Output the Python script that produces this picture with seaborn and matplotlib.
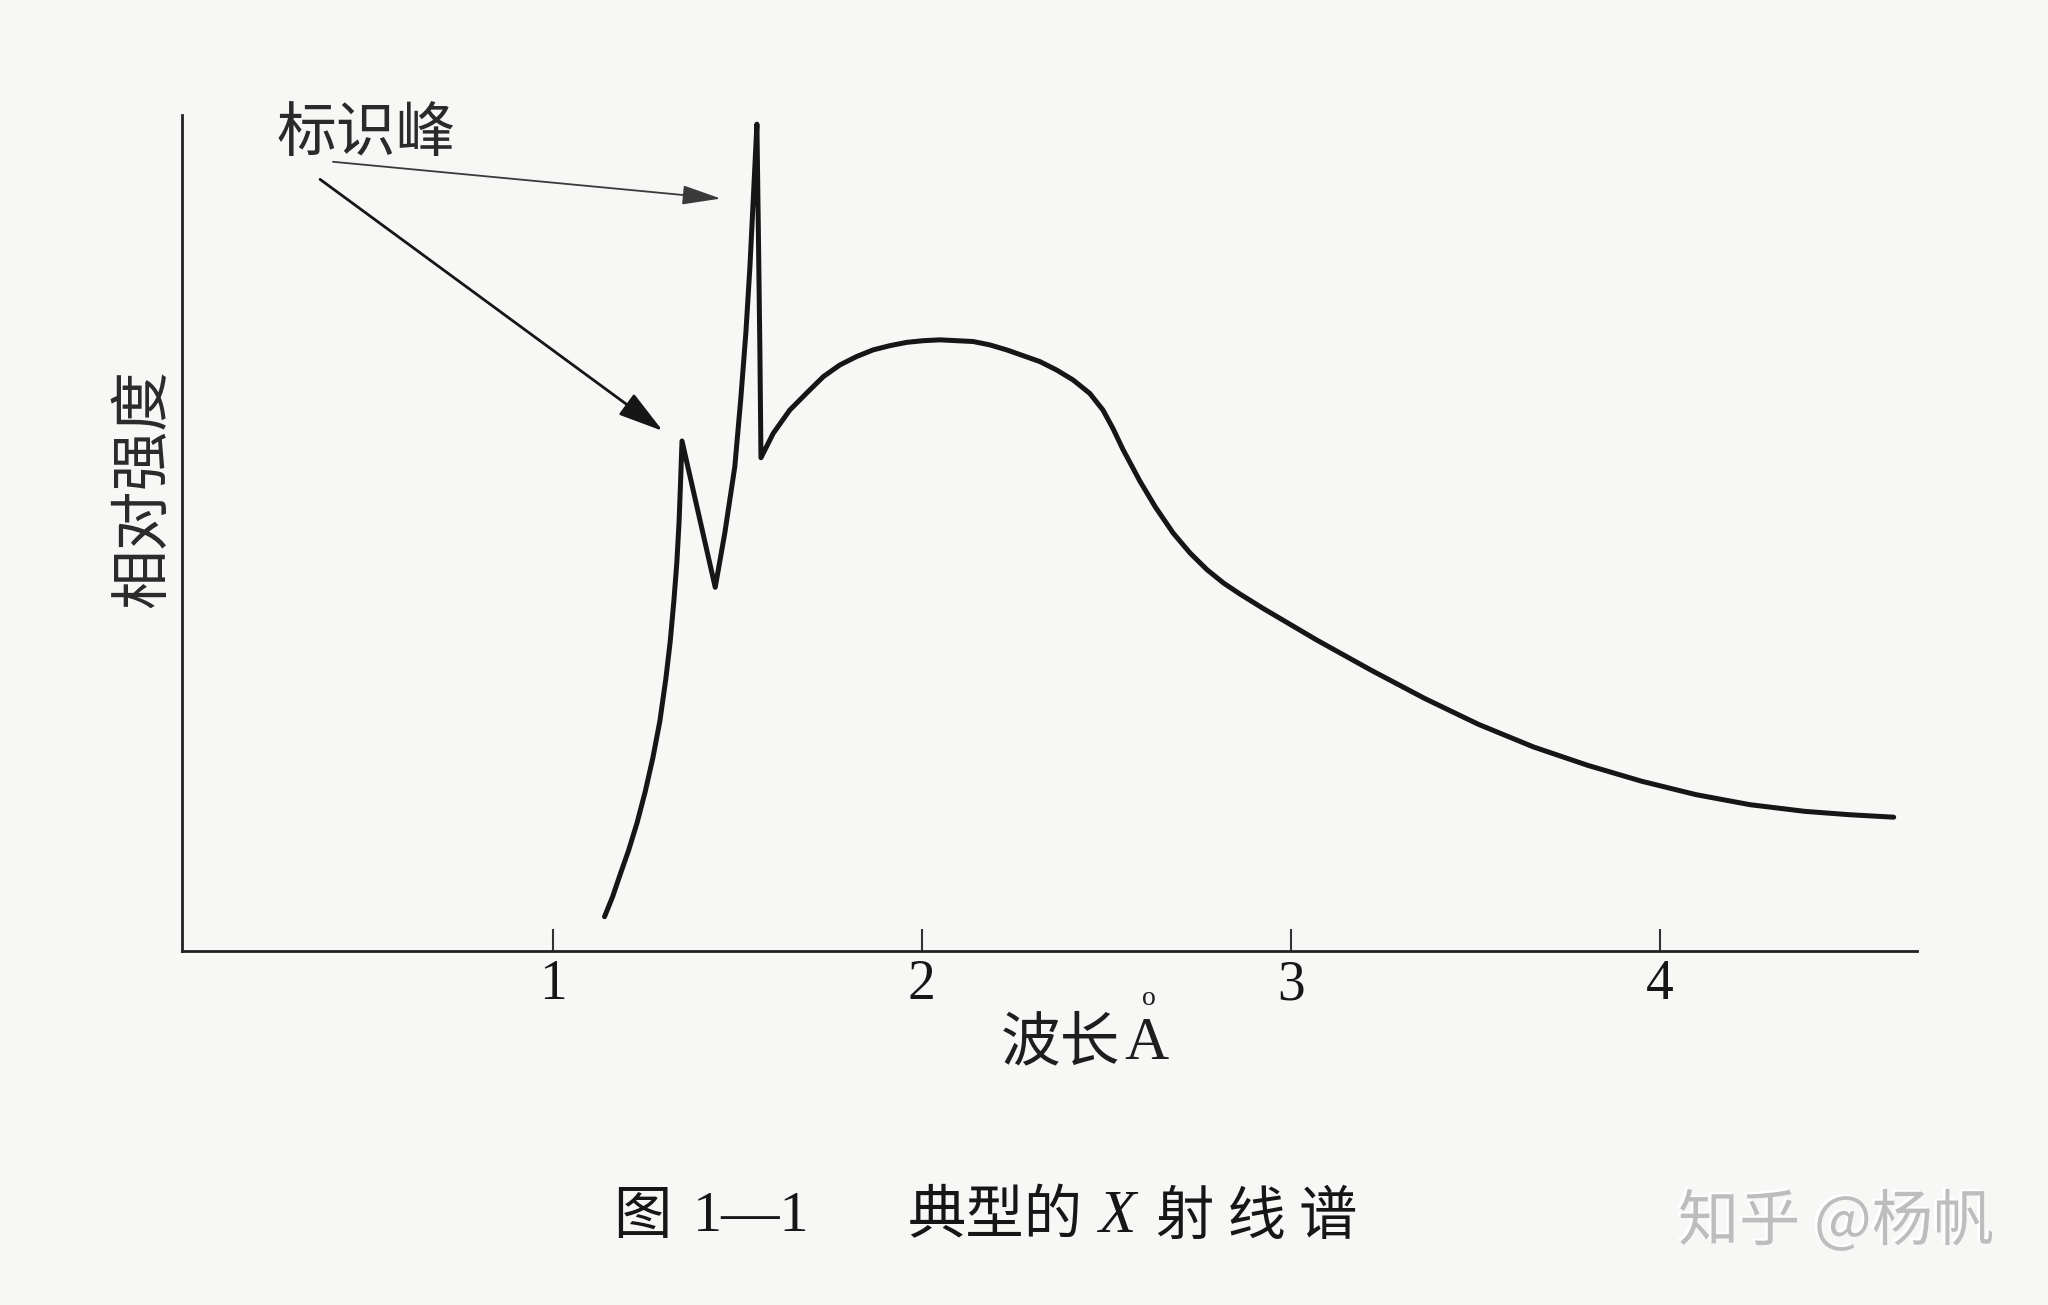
import matplotlib
matplotlib.use("Agg")
import matplotlib.pyplot as plt
import matplotlib.patheffects as pe
import pandas as pd
import seaborn as sns

# values (wavelength in Å, relative intensity 0-100)
wavelength = [
    1.140, 1.162, 1.182, 1.205, 1.228, 1.250, 1.271, 1.290, 1.306, 1.318,
    1.328, 1.336, 1.342, 1.346, 1.350, 1.440, 1.466, 1.493, 1.509, 1.523,
    1.534, 1.543, 1.553, 1.557, 1.561, 1.564, 1.597, 1.642, 1.687, 1.733,
    1.778, 1.823, 1.868, 1.913, 1.959, 2.004, 2.049, 2.094, 2.139, 2.184,
    2.230, 2.275, 2.320, 2.365, 2.410, 2.455, 2.491, 2.518, 2.545, 2.591,
    2.633, 2.681, 2.727, 2.773, 2.818, 2.862, 2.924, 3.070, 3.217, 3.363,
    3.509, 3.658, 3.805, 3.951, 4.098, 4.244, 4.393, 4.513, 4.634,
]
intensity = [
    4.1, 6.5, 9.1, 12.0, 15.3, 19.0, 23.1, 27.5, 32.5, 37.0,
    41.9, 46.5, 51.3, 56.0, 61.0, 43.5, 50.0, 57.9, 65.9, 73.9,
    81.8, 89.8, 98.9, 85.9, 72.0, 59.0, 61.9, 64.7, 66.7, 68.7,
    70.1, 71.1, 71.9, 72.4, 72.8, 73.0, 73.1, 73.0, 72.9, 72.5,
    71.9, 71.2, 70.5, 69.5, 68.3, 66.7, 64.7, 62.5, 60.0, 56.2,
    53.1, 50.0, 47.6, 45.6, 44.0, 42.7, 41.0, 37.2, 33.6, 30.2,
    27.1, 24.4, 22.2, 20.3, 18.7, 17.5, 16.7, 16.3, 16.0,
]
tick_values = [1, 2, 3, 4]
tick_labels = ["1", "2", "3", "4"]

# annotation arrows: (tail, tip) in data units
peak_arrows = [((0.404, 94.4), (1.455, 90.0)), ((0.369, 92.3), (1.298, 62.2))]

BG = "#f7f7f5"
INK = "#161616"
CJK = ["Noto Sans CJK SC", "DejaVu Sans"]
SERIF = ["Liberation Serif", "DejaVu Serif"]

sns.set_style("ticks")
plt.rcParams["font.family"] = CJK

df = pd.DataFrame({"wavelength": wavelength, "intensity": intensity})

fig = plt.figure(figsize=(20.48, 13.05), dpi=100)
fig.patch.set_facecolor(BG)
ax = fig.add_axes([0.0889, 0.2713, 0.936 - 0.0889, 0.9119 - 0.2713])
ax.set_facecolor(BG)

sns.lineplot(data=df, x="wavelength", y="intensity", sort=False,
             color=INK, linewidth=3.6, ax=ax)
ax.lines[0].set_solid_joinstyle("round")

ax.set_xlim(-0.005, 4.697)
ax.set_ylim(0, 100)
sns.despine(ax=ax)
for side in ["left", "bottom"]:
    ax.spines[side].set_linewidth(2.0)
    ax.spines[side].set_color("#222222")

ax.set_yticks([])
ax.set_xticks(tick_values)
ax.set_xticklabels(tick_labels, family=SERIF, fontsize=40, color=INK)
ax.tick_params(axis="x", direction="in", length=16, width=1.5,
               color="#333333", pad=6)
ax.set_xlabel("")
ax.set_ylabel("")

# arrows pointing at the characteristic peaks
styles = [("-|>,head_length=1.2,head_width=0.3", 1.3, "#3a3a3a"),
          ("-|>,head_length=1.4,head_width=0.4", 2.0, INK)]
for (tail, tip), (style, lw, col) in zip(peak_arrows, styles):
    ax.annotate("", xy=tip, xytext=tail,
                arrowprops=dict(arrowstyle=style, lw=lw, color=col,
                                mutation_scale=20, shrinkA=0, shrinkB=0))

fig.text(0.1787, 0.8966, "标识峰", fontsize=43, color="#2a2a2a",
         ha="center", va="center", fontweight="light")

# axis titles
fig.text(0.0703, 0.626, "相对强度", fontsize=43, color="#2a2a2a",
         rotation=90, ha="center", va="center", fontweight="light")
fig.text(0.5176, 0.2000, "波长", fontsize=43, color="#1e1e1e",
         ha="center", va="center", fontweight="light")
fig.text(0.5596, 0.2000, "A", fontsize=44, color="#1e1e1e",
         ha="center", va="center", family=SERIF)
fig.text(0.5610, 0.2350, "o", fontsize=20, color="#1e1e1e",
         ha="center", va="center", family=SERIF)

# caption
cap_y = 1 - 1217 / 1305
fig.text(642 / 2048, cap_y, "图", fontsize=42, color=INK, ha="center", va="center")
fig.text(751 / 2048, cap_y, "1—1", fontsize=42, color=INK, ha="center",
         va="center", family=SERIF)
fig.text(995 / 2048, cap_y, "典型的", fontsize=42, color=INK, ha="center", va="center")
fig.text(1117 / 2048, cap_y, "X", fontsize=44, color=INK, ha="center",
         va="center", family=SERIF, style="italic")
fig.text(1257 / 2048, cap_y, "射 线 谱", fontsize=42, color=INK, ha="center", va="center")

# watermark
fig.text(0.8965, 1 - 1223 / 1305, "知乎 @杨帆", fontsize=44, color="#bdbdbd",
         ha="center", va="center",
         path_effects=[pe.SimplePatchShadow(offset=(-2, 1.5), shadow_rgbFace="white", alpha=1),
                       pe.Normal()])

fig.savefig("out.png", dpi=100, facecolor=BG)
